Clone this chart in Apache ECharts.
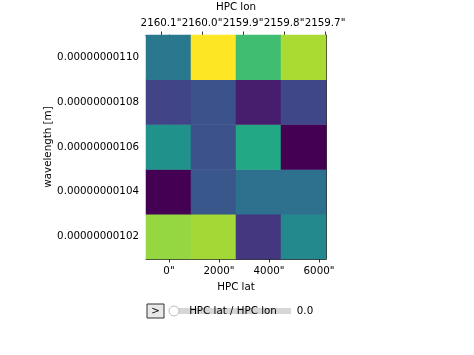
<!DOCTYPE html>
<html>
<head>
<meta charset="utf-8">
<script src="https://cdn.jsdelivr.net/npm/echarts@6/dist/echarts.min.js"></script>
<style>html,body{margin:0;padding:0;background:#fff}#c{width:474px;height:355px}</style>
</head>
<body>
<div id="c"></div>
<script>
// Data
const wavelengthLabels = ['0.00000000102','0.00000000104','0.00000000106','0.00000000108','0.00000000110'];
const columns = ['c0','c1','c2','c3'];
const row102 = [0.84, 0.86, 0.16, 0.47];
const row104 = [0.00, 0.27, 0.37, 0.37];
const row106 = [0.50, 0.25, 0.60, 0.00];
const row108 = [0.20, 0.25, 0.08, 0.21];
const row110 = [0.40, 1.00, 0.69, 0.87];
const latTicks = [0, 2000, 4000, 6000];
const lonTicks = [2160.1, 2160.0, 2159.9, 2159.8, 2159.7];

const rows = [row102, row104, row106, row108, row110];
const cells = [];
rows.forEach((r, yi) => r.forEach((v, xi) => cells.push([xi, yi, v])));

const viridis = ['#440154','#482475','#414487','#355f8d','#2a788e','#21918c','#22a884','#44bf70','#7ad151','#bddf26','#fde725'];
const FONT = 'DejaVu Sans';
const FS = 10.3;

const chart = echarts.init(document.getElementById('c'));
chart.setOption({
  animation: false,
  textStyle: {fontFamily: FONT},
  grid: {left: 146, top: 35, width: 180, height: 224, containLabel: false, outerBoundsMode: 'none'},
  visualMap: {show: false, min: 0, max: 1, inRange: {color: viridis}, seriesIndex: 0},
  xAxis: [
    {type: 'category', data: columns, show: false, position: 'bottom', gridIndex: 0},
    {type: 'value', position: 'bottom', min: -920, max: 6280,
      axisLine: {show: true, onZero: false, lineStyle: {color: '#000', width: 0.8}},
      axisTick: {show: true, customValues: latTicks, length: 3.5, lineStyle: {color: '#000', width: 0.8}},
      axisLabel: {customValues: latTicks, formatter: v => v + '"', color: '#000', fontSize: FS, fontFamily: FONT, margin: 7},
      splitLine: {show: false},
      name: 'HPC lat', nameLocation: 'middle', nameGap: 23,
      nameTextStyle: {color: '#000', fontSize: FS, fontFamily: FONT}},
    {type: 'value', position: 'top', inverse: true, min: 2159.6976, max: 2160.1366,
      axisLine: {show: true, onZero: false, lineStyle: {color: '#000', width: 0.8}},
      axisTick: {show: true, customValues: lonTicks, length: 3.5, lineStyle: {color: '#000', width: 0.8}},
      axisLabel: {customValues: lonTicks, formatter: v => v.toFixed(1) + '"', color: '#000', fontSize: FS, fontFamily: FONT, margin: 7},
      splitLine: {show: false},
      name: 'HPC lon', nameLocation: 'middle', nameGap: 23,
      nameTextStyle: {color: '#000', fontSize: FS, fontFamily: FONT}}
  ],
  yAxis: [
    {type: 'category', data: wavelengthLabels, position: 'left',
      axisLine: {show: true, lineStyle: {color: '#000', width: 0.8}},
      axisTick: {show: true, alignWithLabel: true, length: 3.5, lineStyle: {color: '#000', width: 0.8}},
      axisLabel: {color: '#000', fontSize: FS, fontFamily: FONT, margin: 7},
      splitLine: {show: false},
      name: 'wavelength [m]', nameLocation: 'middle', nameGap: 93, nameRotate: 90,
      nameTextStyle: {color: '#000', fontSize: FS, fontFamily: FONT}},
    {type: 'value', position: 'right', min: 0, max: 1,
      axisLine: {show: true, onZero: false, lineStyle: {color: '#000', width: 0.8}},
      axisTick: {show: false}, axisLabel: {show: false}, splitLine: {show: false}}
  ],
  series: [{
    type: 'heatmap', xAxisIndex: 0, yAxisIndex: 0, data: cells, z: 1,
    itemStyle: {borderWidth: 0}, emphasis: {disabled: true}
  }],
  graphic: [
    {type: 'rect', shape: {x: 147, y: 304, width: 17, height: 14},
      style: {fill: '#e8e8e8', stroke: '#333', lineWidth: 1}},
    {type: 'text', x: 155.5, y: 311, style: {text: '>', fill: '#000', font: FS + 'px ' + FONT, align: 'center', verticalAlign: 'middle'}},
    {type: 'rect', shape: {x: 174, y: 308, width: 117, height: 6},
      style: {fill: '#d6d6d6'}},
    {type: 'circle', shape: {cx: 174, cy: 311, r: 5},
      style: {fill: '#fff', stroke: '#bbb', lineWidth: 1}},
    {type: 'text', x: 233, y: 311, style: {text: 'HPC lat / HPC lon', fill: '#000', font: FS + 'px ' + FONT, align: 'center', verticalAlign: 'middle'}},
    {type: 'text', x: 305, y: 311, style: {text: '0.0', fill: '#000', font: FS + 'px ' + FONT, align: 'center', verticalAlign: 'middle'}}
  ]
});
</script>
</body>
</html>
